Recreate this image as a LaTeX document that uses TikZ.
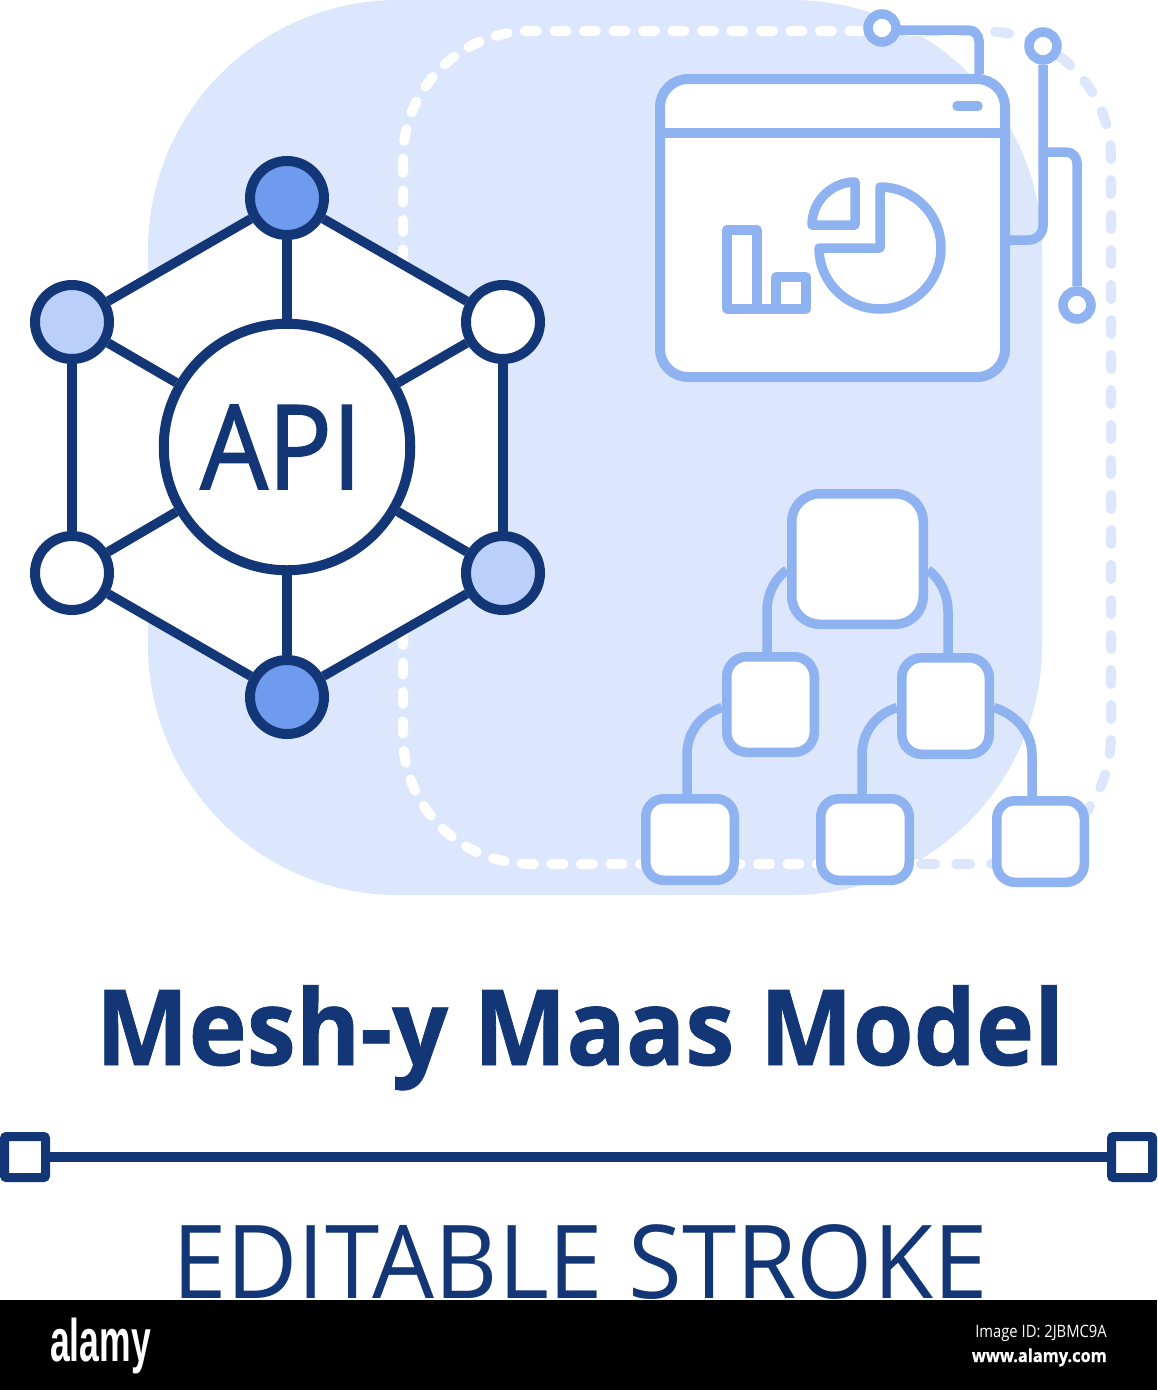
\documentclass[tikz,border=0pt]{standalone}
\usepackage{fontspec}
\setmainfont[BoldFeatures={FakeBold=0.8}]{Open Sans}
\newfontfamily\logofont{Liberation Sans}
\newfontfamily\apifont[FakeBold=1.6]{Open Sans}
\usetikzlibrary{backgrounds,calc}
\definecolor{dark}{HTML}{123676}
\definecolor{lite}{HTML}{8FB3F1}
\definecolor{blob}{HTML}{DCE7FD}
\definecolor{midfill}{HTML}{BAD0FB}
\definecolor{deepfill}{HTML}{6F9BEF}
\tikzset{
  hexnode/.style={circle,draw=dark,line width=10pt,minimum size=74pt,inner sep=0pt,fill=#1},
  hexedge/.style={draw=dark,line width=9.5pt},
  hub/.style={circle,draw=dark,line width=10pt,minimum size=246.5pt,inner sep=0pt,fill=white,text=dark},
  liteline/.style={draw=lite,line width=9.5pt},
  pin/.style={circle,draw=lite,line width=9.5pt,minimum size=28pt,inner sep=0pt,fill=white},
  treebox/.style={rectangle,draw=lite,line width=9.5pt,fill=white,inner sep=0pt,rounded corners=#1},
  winbox/.style={rectangle,draw=lite,line width=10pt,fill=white,inner sep=0pt,rounded corners=28pt,minimum width=345pt,minimum height=298pt},
  endbox/.style={rectangle,draw=dark,line width=9pt,fill=white,inner sep=0pt,minimum size=41pt,rounded corners=2pt},
  whitedash/.style={white,line width=10pt,line cap=round,dash pattern=on 12pt off 17.5pt,rounded corners=128pt},
  litedash/.style={blob,line width=10pt,line cap=round,dash pattern=on 14pt off 21pt,rounded corners=128pt},
}
\def\blobpath{(148,250) .. controls (148,112) and (260,0) .. (398,0) -- (792,0) .. controls (930,0) and (1042,112) .. (1042,250) -- (1042,645) .. controls (1042,783) and (930,895) .. (792,895) -- (398,895) .. controls (260,895) and (148,783) .. (148,645) -- cycle}
\begin{document}
\begin{tikzpicture}[x=1pt,y=-1pt]
\useasboundingbox (0,0) rectangle (1157,1390);
% hex graph nodes
\node[hub] (hubc) at (287,447) {\hspace*{-12pt}\scalebox{0.91}[1]{\apifont\fontsize{117}{120}\selectfont API}};
\node[hexnode=deepfill] (n1) at (287,198) {};
\node[hexnode=white] (n2) at (503,322) {};
\node[hexnode=midfill] (n3) at (503,573) {};
\node[hexnode=deepfill] (n4) at (287,697) {};
\node[hexnode=white] (n5) at (72,573) {};
\node[hexnode=midfill] (n6) at (72,322) {};
% window
\node[winbox] (win) at (832.5,228) {};
\node[pin] (pa) at (882,28) {};
\node[pin] (pb) at (1043,46) {};
\node[pin] (pc) at (1077,305) {};
\coordinate (tap) at (1043,152);
\draw[liteline,line cap=round] (660,133) -- (1005,133);
\draw[liteline,line cap=round] (957,106) -- (978,106);
% bars
\draw[liteline,line join=round] (727,309) -- (727,230) -- (757,230) -- (757,309) -- cycle;
\draw[liteline,line join=round] (776,309) -- (776,277) -- (806,277) -- (806,309) -- cycle;
\draw[liteline] (757,309) -- (776,309);
% pies
\draw[liteline,line join=round] (880,187) arc[start angle=90,end angle=-180,radius=61pt] -- (880,248) -- cycle;
\draw[liteline,line join=round] (855,182) arc[start angle=90,end angle=180,radius=43pt] -- (855,225) -- cycle;
% tree
\node[treebox=28pt,minimum width=131.5pt,minimum height=130.5pt] (root) at (857.5,559) {};
\node[treebox=20pt,minimum width=87.5pt,minimum height=95.5pt] (midl) at (770.5,704.5) {};
\node[treebox=20pt,minimum width=87.5pt,minimum height=96.5pt] (midr) at (945.5,706) {};
\node[treebox=18pt,minimum width=88.5pt,minimum height=81.5pt] (botl) at (690,839.5) {};
\node[treebox=18pt,minimum width=88.5pt,minimum height=81.5pt] (botm) at (865,839.5) {};
\node[treebox=18pt,minimum width=87.5pt,minimum height=81.5pt] (botr) at (1040.5,841.5) {};
\begin{pgfonlayer}{background}
  \fill[white] (0,0) rectangle (1157,1390);
  % light dashes show only outside the blob
  \draw[litedash,dash phase=14pt] (1111,159) -- (1111,864) -- (403,864);
  \draw[litedash,dash phase=0pt] (1111,159) -- (1111,31) -- (403,31);
  \fill[blob] \blobpath;
  \begin{scope}
    \clip \blobpath;
    \draw[whitedash,dash phase=27.5pt] (403,159) -- (403,864) -- (1111,864);
    \draw[whitedash,dash phase=11.5pt] (403,159) -- (403,31) -- (1111,31);
  \end{scope}
  \fill[white] (n1.center) -- (n2.center) -- (n3.center) -- (n4.center) -- (n5.center) -- (n6.center) -- cycle;
  \draw[hexedge] (n1) -- (n2);
  \draw[hexedge] (n2) -- (n3);
  \draw[hexedge] (n3) -- (n4);
  \draw[hexedge] (n4) -- (n5);
  \draw[hexedge] (n5) -- (n6);
  \draw[hexedge] (n6) -- (n1);
  \foreach \k in {1,...,6} {\draw[hexedge] (hubc) -- (n\k);}
  % window connectors
  \draw[liteline,rounded corners=11pt] ([yshift=-2pt]pa.center) -| ([xshift=146.5pt]win.north);
  \draw[liteline,rounded corners=14pt] (pb) |- ([yshift=-12pt]win.east);
  \draw[liteline,rounded corners=11pt] (tap) -| (pc);
  % tree connectors
  \draw[liteline] ([xshift=-3.5pt]midl.north) -- ++(0,-42) .. controls +(0,-13) and +(-14,10) .. ([yshift=-11pt]root.west);
  \draw[liteline] ([xshift=2.5pt]midr.north) -- ++(0,-42) .. controls +(0,-13) and +(14,10) .. ([yshift=-11pt]root.east);
  \draw[liteline] ([xshift=-3pt]botl.north) -- ++(0,-39) .. controls +(0,-25) and +(-19,6) .. ([yshift=-3pt]midl.west);
  \draw[liteline] ([xshift=-3pt]botm.north) -- ++(0,-39) .. controls +(0,-25) and +(-19,6) .. ([yshift=-1.5pt]midr.west);
  \draw[liteline] ([xshift=-8.5pt]botr.north) -- ++(0,-41) .. controls +(0,-25) and +(19,6) .. ([yshift=-1.5pt]midr.east);
\end{pgfonlayer}
% title
\node[anchor=base,text=dark,inner sep=0pt] (title) at (580,1065) {\scalebox{0.9375}[1]{\fontsize{105}{120}\bfseries\selectfont Mesh-y Maas Model}};
% rule
\node[endbox] (sqa) at (25,1157) {};
\node[endbox] (sqb) at (1132,1157) {};
\draw[dark,line width=9.5pt] (sqa) -- (sqb);
\node[anchor=base,text=dark,inner sep=0pt] (sub) at (580,1298) {\scalebox{0.96}[1]{\fontsize{102}{120}\selectfont EDITABLE STROKE}};
% footer
\fill[black] (0,1300) rectangle (1157,1390);
\node[anchor=base west,text=white,inner sep=0pt] (logo) at (50,1361) {\scalebox{0.74}[1.25]{\logofont\bfseries\fontsize{48}{50}\selectfont alamy}};
\node[anchor=base east,text=white,inner sep=0pt] (imgid) at (1107,1337) {\scalebox{0.87}[1]{\fontsize{17}{20}\selectfont Image ID: 2JBMC9A}};
\node[anchor=base east,text=white,inner sep=0pt] (url) at (1107,1362) {\scalebox{0.91}[1]{\fontsize{18}{20}\bfseries\selectfont www.alamy.com}};
\end{tikzpicture}
\end{document}
